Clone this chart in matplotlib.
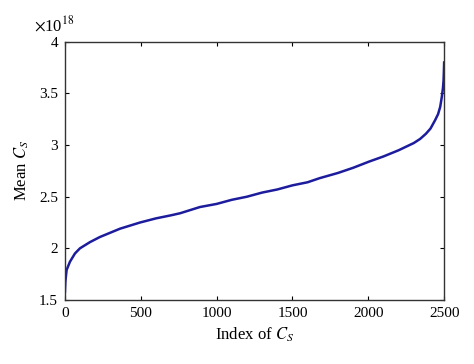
import numpy as np
import matplotlib.pyplot as plt
from matplotlib.ticker import FuncFormatter

plt.rcParams['font.family'] = 'Liberation Serif'
plt.rcParams['mathtext.fontset'] = 'stix'

# values (index, mean C_S in units of 1e18)
index = [0, 1, 3, 11, 33, 66, 99, 165, 231, 363, 495, 600, 700, 760,
         890, 1000, 1100, 1200, 1300, 1400, 1500, 1600, 1680, 1800, 1900, 2005,
         2100, 2200, 2300, 2342, 2380, 2410, 2440, 2460, 2474, 2485, 2492,
         2496, 2498, 2500]
mean_cs = [1.58, 1.62, 1.68, 1.79, 1.87, 1.95, 2.00, 2.06, 2.11, 2.19, 2.25,
           2.29, 2.32, 2.34, 2.40, 2.43, 2.47, 2.50, 2.54, 2.57, 2.61, 2.64,
           2.68, 2.73, 2.78, 2.84, 2.89, 2.95, 3.02, 3.06, 3.11, 3.16, 3.24,
           3.30, 3.37, 3.47, 3.55, 3.62, 3.70, 3.80]

fig = plt.figure(figsize=(4.74, 3.64), dpi=100)
ax = fig.add_axes([0.137, 0.176, 0.8, 0.709])
ax.plot(index, np.array(mean_cs) * 1e18, color='#1c1c9c', lw=1.8)

ax.set_xlim(0, 2500)
ax.set_ylim(1.5e18, 4e18)
ax.set_xticks([0, 500, 1000, 1500, 2000, 2500])
ax.set_yticks(np.array([1.5, 2, 2.5, 3, 3.5, 4]) * 1e18)
ax.yaxis.set_major_formatter(FuncFormatter(lambda v, p: '%g' % (v / 1e18)))
ax.tick_params(direction='in', top=True, right=True, labelsize=11, length=3,
               width=0.8, pad=5)
for sp in ax.spines.values():
    sp.set_linewidth(1.0)
    sp.set_color('#333333')

ax.set_xlabel('Index of $C_S$', fontsize=12, labelpad=4)
ax.set_ylabel('Mean $C_S$', fontsize=12, labelpad=6)
fig.text(0.158, 0.905, r'$\times$10$^{18}$', fontsize=12, ha='right', va='bottom')

fig.savefig('out.png', dpi=100)
